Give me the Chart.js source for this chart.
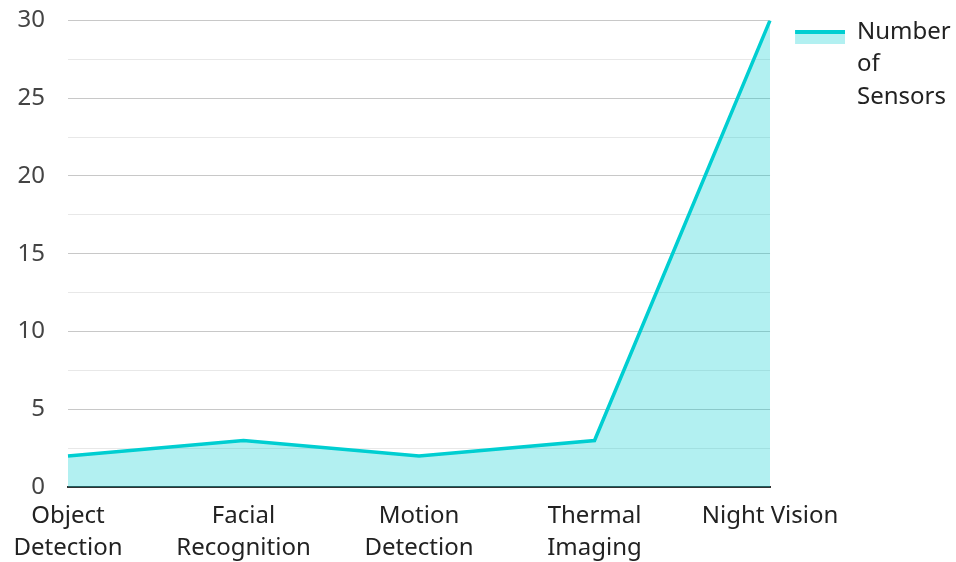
<!DOCTYPE html>
<html>
<head>
<meta charset="utf-8">
<script src="https://cdn.jsdelivr.net/npm/chart.js@4.4.1/dist/chart.umd.min.js"></script>
<style>
  html, body { margin: 0; padding: 0; background: #fff; }
  #wrap { width: 956px; height: 562px; }
</style>
</head>
<body>
<div id="wrap"><canvas id="chart"></canvas></div>
<script>
const categories = [
  ["Object", "Detection"],
  ["Facial", "Recognition"],
  ["Motion", "Detection"],
  ["Thermal", "Imaging"],
  "Night Vision",
];
const sensorCounts = [2, 3, 2, 3, 30];
const seriesName = "Number of Sensors";
const legendLines = ["Number", "of", "Sensors"];

const lineColor = "#00CED1";
const fillColor = "rgba(0, 206, 209, 0.3)";

// legend icon: filled swatch with a thick line on top (transparent margin on the left)
function legendIcon() {
  const c = document.createElement("canvas");
  c.width = 69;
  c.height = 30;
  const g = c.getContext("2d");
  g.fillStyle = fillColor;
  g.fillRect(19, 16, 50, 11);
  g.fillStyle = lineColor;
  g.fillRect(19, 13, 50, 4);
  return c;
}

Chart.defaults.font.family = "'Noto Sans', sans-serif";
Chart.defaults.font.size = 24;

const ctx = document.getElementById("chart").getContext("2d");
new Chart(ctx, {
  type: "line",
  data: {
    labels: categories,
    datasets: [
      {
        label: seriesName,
        data: sensorCounts,
        borderColor: lineColor,
        backgroundColor: fillColor,
        borderWidth: 3.5,
        fill: "origin",
        tension: 0,
        pointRadius: 0,
        pointHoverRadius: 0,
      },
    ],
  },
  options: {
    responsive: true,
    maintainAspectRatio: false,
    animation: false,
    layout: { padding: { top: 14, right: 0, left: 0, bottom: 0 } },
    plugins: {
      tooltip: { enabled: false },
      legend: {
        position: "right",
        align: "start",
        labels: {
          color: "#222",
          usePointStyle: true,
          pointStyleWidth: 69,
          boxHeight: 24,
          padding: 6,
          font: { size: 24, lineHeight: 1.36 },
          generateLabels(chart) {
            const items = Chart.defaults.plugins.legend.labels.generateLabels(chart);
            items.forEach((it) => {
              it.text = legendLines;
              it.pointStyle = legendIcon();
            });
            return items;
          },
        },
      },
    },
    scales: {
      x: {
        offset: false,
        grid: { display: false, drawTicks: true, tickLength: 15 },
        border: { display: true, color: "#333", width: 2 },
        ticks: {
          color: "#222",
          maxRotation: 0,
          autoSkip: false,
          padding: -2,
          font: { size: 24, lineHeight: 1.33 },
        },
      },
      y: {
        min: 0,
        max: 30,
        border: { display: false },
        afterFit(scale) {
          scale.width = 68;
        },
        grid: {
          drawTicks: true,
          tickLength: 17,
          tickColor: "rgba(0,0,0,0)",
          lineWidth: 1,
          color: (c) =>
            c.tick && c.tick.value % 5 === 0 ? "#c8c8c8" : "#e8e8e8",
        },
        ticks: {
          stepSize: 2.5,
          color: "#444",
          padding: 6,
          font: { size: 24 },
          callback: (v) => (v % 5 === 0 ? v : ""),
        },
      },
    },
  },
});
</script>
</body>
</html>
